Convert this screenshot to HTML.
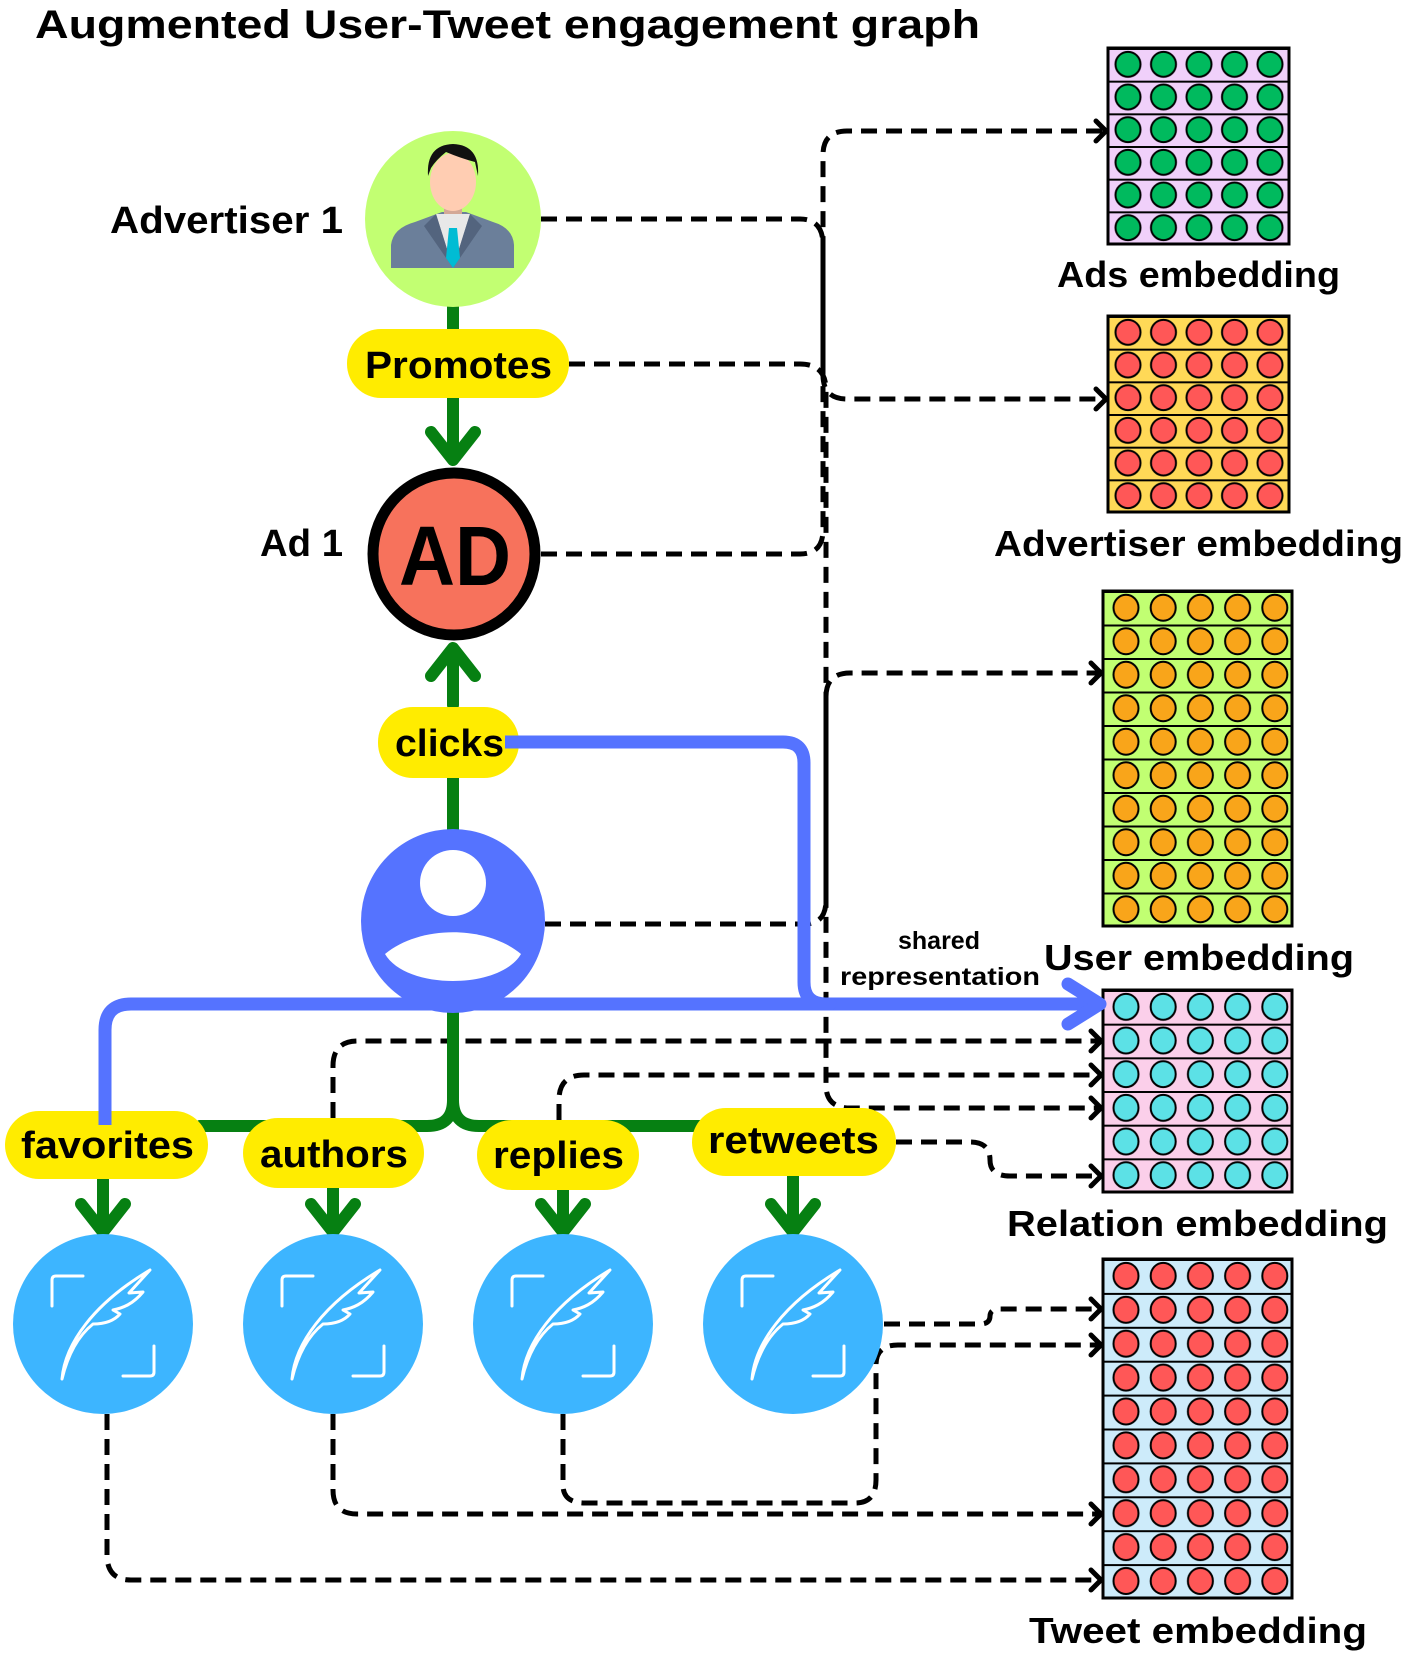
<!DOCTYPE html>
<html><head><meta charset="utf-8"><style>
html,body{margin:0;padding:0;background:#fff;}
svg{display:block;}
text{font-family:"Liberation Sans",sans-serif;font-weight:bold;fill:#000;}
</style></head><body>
<svg width="1410" height="1655" viewBox="0 0 1410 1655" xmlns="http://www.w3.org/2000/svg">
<defs>
<pattern id="pA" patternUnits="userSpaceOnUse" x="1110.25" y="48" width="35.5" height="32.67"><line x1="0" y1="0" x2="35.5" y2="0" stroke="#000" stroke-width="4"/><circle cx="17.75" cy="16.3" r="12.5" fill="#00BA5E" stroke="#000" stroke-width="2"/></pattern>
<pattern id="pB" patternUnits="userSpaceOnUse" x="1110.25" y="316" width="35.5" height="32.67"><line x1="0" y1="0" x2="35.5" y2="0" stroke="#000" stroke-width="4"/><circle cx="17.75" cy="16.3" r="12.5" fill="#FF5757" stroke="#000" stroke-width="2"/></pattern>
<pattern id="pC" patternUnits="userSpaceOnUse" x="1107.4" y="591" width="37.2" height="33.5"><line x1="0" y1="0" x2="37.2" y2="0" stroke="#000" stroke-width="4"/><ellipse cx="18.6" cy="16.75" rx="12.5" ry="13" fill="#F9A51A" stroke="#000" stroke-width="2"/></pattern>
<pattern id="pD" patternUnits="userSpaceOnUse" x="1107.4" y="990" width="37.2" height="33.67"><line x1="0" y1="0" x2="37.2" y2="0" stroke="#000" stroke-width="4"/><ellipse cx="18.6" cy="16.8" rx="12.5" ry="13" fill="#5CE1E6" stroke="#000" stroke-width="2"/></pattern>
<pattern id="pE" patternUnits="userSpaceOnUse" x="1107.4" y="1259" width="37.2" height="33.9"><line x1="0" y1="0" x2="37.2" y2="0" stroke="#000" stroke-width="4"/><ellipse cx="18.6" cy="16.9" rx="12.5" ry="13" fill="#FF5757" stroke="#000" stroke-width="2"/></pattern>
<g id="tw">
<circle cx="0" cy="0" r="90" fill="#3DB5FF"/>
<path d="M-51,-18 V-44 Q-51,-48 -47,-48 H-20 M51,22 V48 Q51,52 47,52 H20" fill="none" stroke="#fff" stroke-width="3" stroke-linecap="round"/>
<path d="M-41,55 C-38,20 -10,-20 47,-54 L26,-31 L40,-32 C30,-20 20,-16 10,-14 L17,-10 C10,-2 0,0 -10,0 C-25,12 -35,30 -41,55 Z" fill="none" stroke="#fff" stroke-width="3" stroke-linejoin="round"/>
</g>
</defs>

<text x="35" y="38" font-size="40" textLength="945" lengthAdjust="spacingAndGlyphs">Augmented User-Tweet engagement graph</text>

<rect x="1108" y="48" width="181" height="196" fill="#F0D0FA"/>
<rect x="1108" y="48" width="181" height="196" fill="url(#pA)" stroke="#000" stroke-width="3"/>
<rect x="1108" y="316" width="181" height="196" fill="#FFD957"/>
<rect x="1108" y="316" width="181" height="196" fill="url(#pB)" stroke="#000" stroke-width="3"/>
<rect x="1103" y="591" width="189" height="335" fill="#C1FF72"/>
<rect x="1103" y="591" width="189" height="335" fill="url(#pC)" stroke="#000" stroke-width="3"/>
<rect x="1103" y="990" width="189" height="202" fill="#FBCFEA"/>
<rect x="1103" y="990" width="189" height="202" fill="url(#pD)" stroke="#000" stroke-width="3"/>
<rect x="1103" y="1259" width="189" height="339" fill="#CDEBFA"/>
<rect x="1103" y="1259" width="189" height="339" fill="url(#pE)" stroke="#000" stroke-width="3"/>

<text x="1057" y="287" font-size="36" textLength="283" lengthAdjust="spacingAndGlyphs">Ads embedding</text>
<text x="994" y="556" font-size="36" textLength="409" lengthAdjust="spacingAndGlyphs">Advertiser embedding</text>
<text x="1044" y="970" font-size="36" textLength="310" lengthAdjust="spacingAndGlyphs">User embedding</text>
<text x="1007" y="1236" font-size="36" textLength="381" lengthAdjust="spacingAndGlyphs">Relation embedding</text>
<text x="1029" y="1643" font-size="36" textLength="338" lengthAdjust="spacingAndGlyphs">Tweet embedding</text>
<text x="939" y="949" font-size="25" text-anchor="middle">shared</text>
<text x="840" y="985" font-size="25" textLength="200" lengthAdjust="spacingAndGlyphs">representation</text>

<g fill="none" stroke="#000" stroke-width="5" stroke-dasharray="16 9">
<path d="M541,219 H800 Q823,219 823,245 V375 Q823,399 847,399 H1102"/>
<path d="M541,554 H800 Q823,554 823,530 V155 Q823,131 847,131 H1102"/>
<path d="M569,364 H800 Q826,364 826,390 V1085 Q826,1108 850,1108 H1099"/>
<path d="M545,924 H805 Q826,924 826,900 V697 Q826,673 850,673 H1099"/>
<path d="M333,1118 V1066 Q333,1041 358,1041 H1099"/>
<path d="M559,1120 V1100 Q559,1075 584,1075 H1099"/>
<path d="M896,1142 H970 Q990,1142 990,1160 Q990,1176 1010,1176 H1099"/>
<path d="M884,1324 H980 Q990,1324 990,1316 Q990,1309 1000,1309 H1099"/>
<path d="M563,1414 V1485 Q563,1503 585,1503 H855 Q876,1503 876,1480 V1365 Q876,1345 898,1345 H1099"/>
<path d="M333,1414 V1490 Q333,1514 357,1514 H1099"/>
<path d="M107,1414 V1555 Q107,1580 131,1580 H1099"/>
</g>
<g fill="none" stroke="#000" stroke-width="5" stroke-linecap="round" stroke-linejoin="round">
<path d="M1096,121 L1106,131 L1096,141"/>
<path d="M1096,389 L1106,399 L1096,409"/>
<path d="M1091,663 L1101,673 L1091,683"/>
<path d="M1091,1031 L1101,1041 L1091,1051"/>
<path d="M1091,1065 L1101,1075 L1091,1085"/>
<path d="M1091,1098 L1101,1108 L1091,1118"/>
<path d="M1091,1166 L1101,1176 L1091,1186"/>
<path d="M1091,1299 L1101,1309 L1091,1319"/>
<path d="M1091,1335 L1101,1345 L1091,1355"/>
<path d="M1091,1504 L1101,1514 L1091,1524"/>
<path d="M1091,1570 L1101,1580 L1091,1590"/>
</g>

<g fill="none" stroke="#068012" stroke-width="12" stroke-linecap="round" stroke-linejoin="round">
<path d="M453,300 V330"/>
<path d="M453,398 V458"/>
<path d="M431,432 L453,460 L475,432"/>
<path d="M453,705 V652"/>
<path d="M431,676 L453,648 L475,676"/>
<path d="M453,778 V830"/>
<path d="M453,1010 V1100 Q453,1126 427,1126 H200"/>
<path d="M453,1100 Q453,1126 479,1126 H700"/>
<path d="M103,1180 V1228 M81,1204 L103,1232 L125,1204"/>
<path d="M333,1188 V1228 M311,1204 L333,1232 L355,1204"/>
<path d="M563,1190 V1228 M541,1204 L563,1232 L585,1204"/>
<path d="M793,1176 V1228 M771,1204 L793,1232 L815,1204"/>
</g>

<circle cx="453" cy="219" r="88" fill="#C2FF72"/>
<path d="M391,268 V245 Q393,228 415,222 L442,212 H466 L493,222 Q513,228 514,245 V268 Z" fill="#6B7F9A"/>
<path d="M436,214 L453,268 L470,214 Z" fill="#E8E8E8"/>
<path d="M424,226 L436,214 L453,268 Z M482,226 L470,214 L453,268 Z" fill="#53647E"/>
<path d="M449,228 H457 L460,258 L453,268 L446,258 Z" fill="#00BCD4"/>
<rect x="444" y="196" width="18" height="18" fill="#D3A897"/>
<ellipse cx="453" cy="182" rx="23" ry="29" fill="#FFCDB2"/>
<path d="M428,176 Q426,145 453,144 Q480,145 478,176 L475,162 Q460,158 446,152 Q436,160 431,168 Z" fill="#111"/>

<circle cx="454" cy="554" r="81" fill="#F7725C" stroke="#000" stroke-width="11"/>
<text x="455" y="585" font-size="84" text-anchor="middle" textLength="112" lengthAdjust="spacingAndGlyphs">AD</text>

<circle cx="453" cy="921" r="92" fill="#5573FF"/>
<circle cx="453" cy="883" r="33" fill="#fff"/>
<path d="M385,954 C420,925 486,925 521,954 C500,990 406,990 385,954 Z" fill="#fff"/>

<g fill="none" stroke="#5573FF" stroke-width="13" stroke-linecap="round" stroke-linejoin="round">
<path d="M505,742 H783 Q804,742 804,763 V982 Q804,1004 826,1004 H1098"/>
<path d="M105,1118 V1030 Q105,1004 131,1004 H830"/>
<path d="M1068,984 L1100,1004 L1068,1024"/>
</g>

<g fill="#FFEC00">
<rect x="347" y="329" width="222" height="69" rx="34"/>
<rect x="378" y="707" width="141" height="71" rx="35"/>
<rect x="5" y="1111" width="203" height="68" rx="34"/>
<rect x="243" y="1118" width="181" height="70" rx="35"/>
<rect x="477" y="1120" width="162" height="70" rx="35"/>
<rect x="692" y="1108" width="204" height="68" rx="34"/>
</g>
<path d="M505,742 H530" stroke="#5573FF" stroke-width="13"/>
<path d="M105,1105 V1125" stroke="#5573FF" stroke-width="13"/>
<text x="365" y="378" font-size="38" textLength="187" lengthAdjust="spacingAndGlyphs">Promotes</text>
<text x="395" y="756" font-size="38" textLength="109" lengthAdjust="spacingAndGlyphs">clicks</text>
<text x="21" y="1158" font-size="38" textLength="173" lengthAdjust="spacingAndGlyphs">favorites</text>
<text x="260" y="1167" font-size="38" textLength="148" lengthAdjust="spacingAndGlyphs">authors</text>
<text x="493" y="1168" font-size="38" textLength="131" lengthAdjust="spacingAndGlyphs">replies</text>
<text x="708" y="1153" font-size="38" textLength="171" lengthAdjust="spacingAndGlyphs">retweets</text>

<text x="343" y="233" font-size="38" text-anchor="end" textLength="233" lengthAdjust="spacingAndGlyphs">Advertiser 1</text>
<text x="343" y="556" font-size="38" text-anchor="end" textLength="83" lengthAdjust="spacingAndGlyphs">Ad 1</text>

<use href="#tw" x="103" y="1324"/>
<use href="#tw" x="333" y="1324"/>
<use href="#tw" x="563" y="1324"/>
<use href="#tw" x="793" y="1324"/>
</svg>
</body></html>
